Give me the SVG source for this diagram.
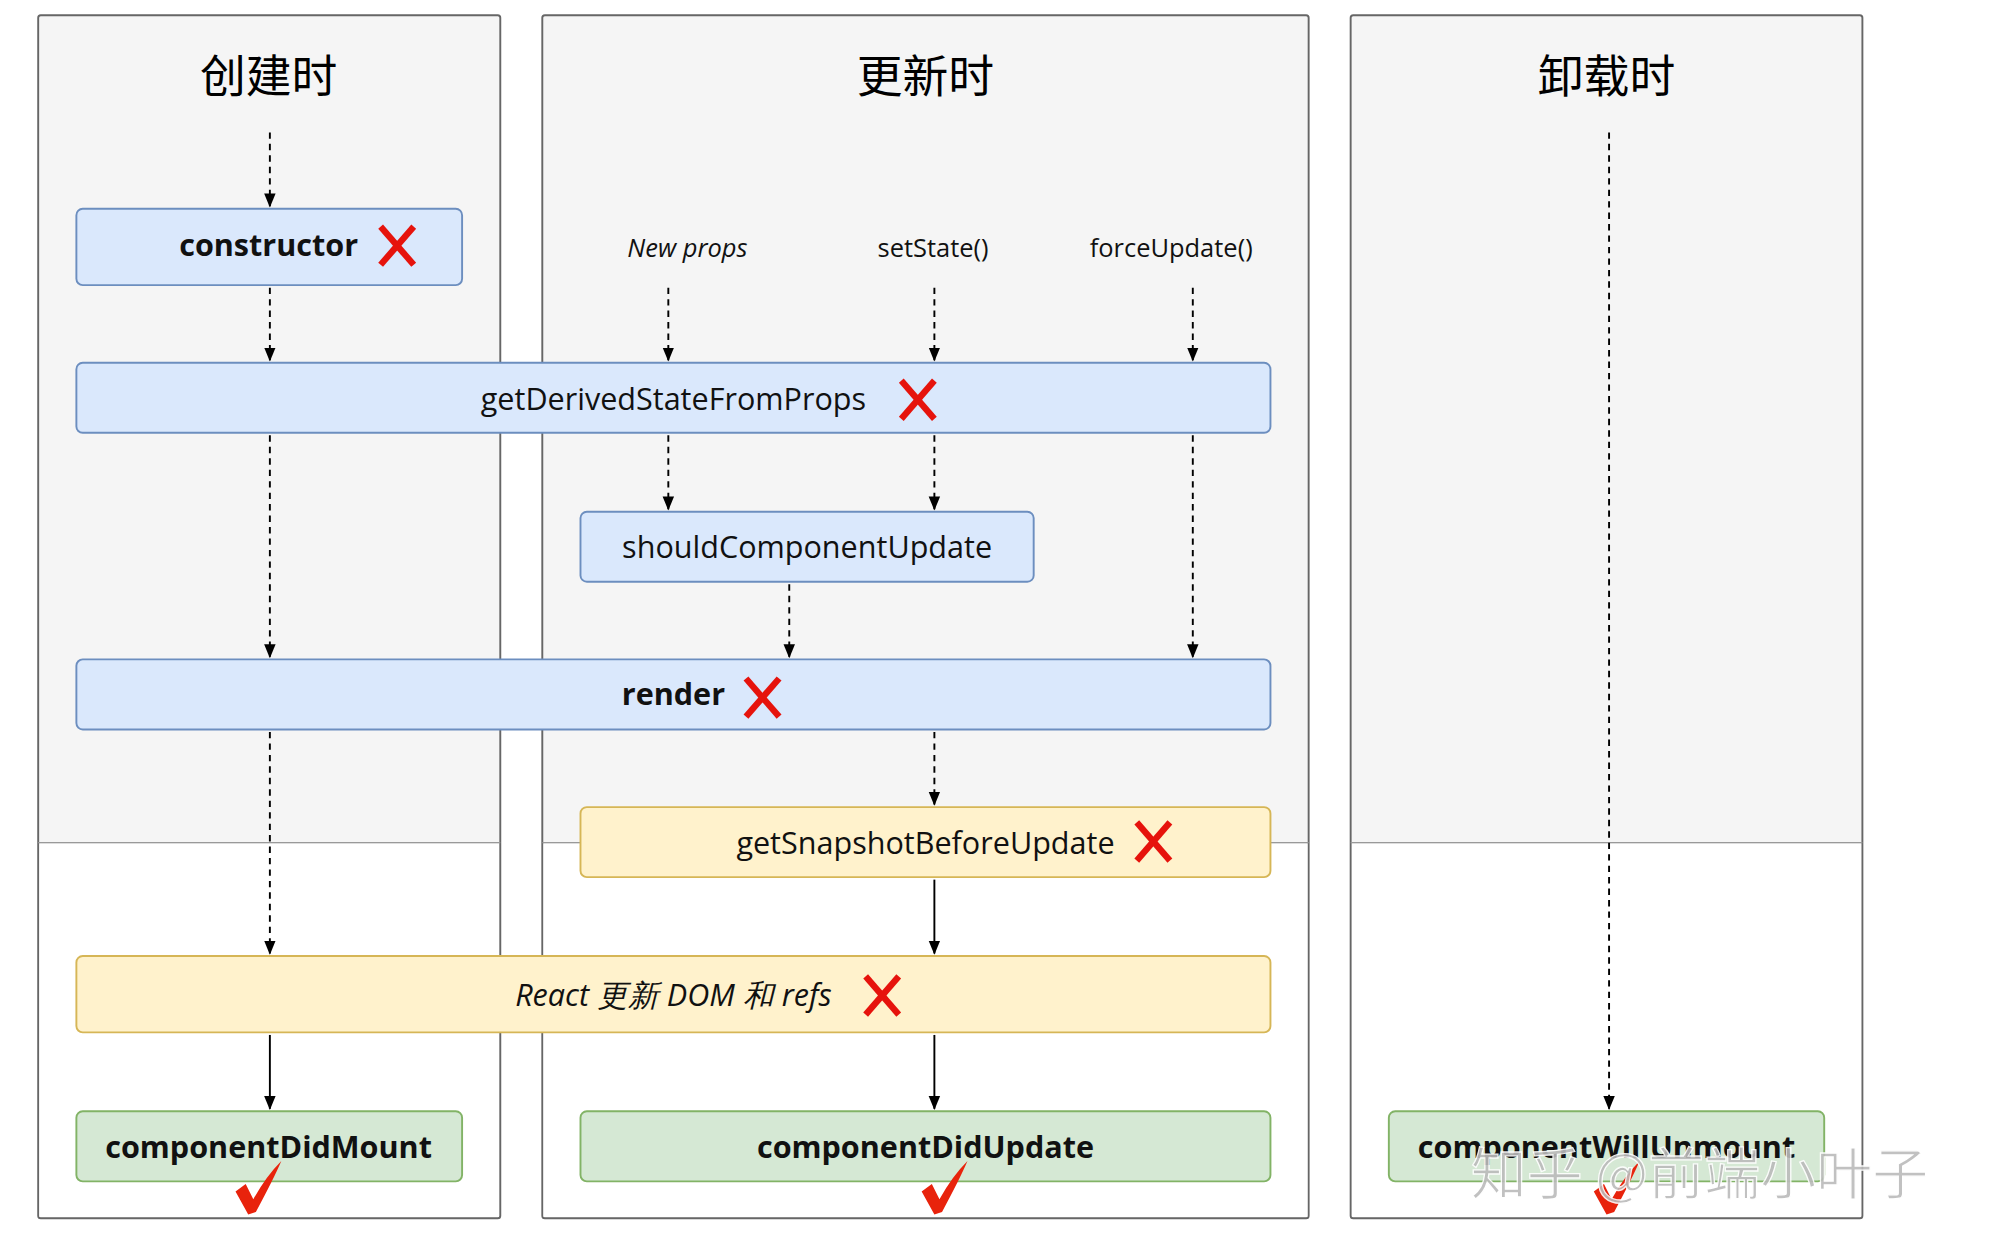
<svg xmlns="http://www.w3.org/2000/svg" width="1995" height="1252" viewBox="0 0 1995 1252">
<style>
.col{fill:#f5f5f5;stroke:#666;stroke-width:1.5}
.sep{stroke:#999;stroke-width:1}
.t{font-family:"Noto Sans CJK SC",sans-serif;font-size:36px;text-anchor:middle;fill:#000}
.b{stroke:#6c8ebf;fill:#dae8fc;stroke-width:1.5}
.y{stroke:#d6b656;fill:#fff2cc;stroke-width:1.5}
.g{stroke:#82b366;fill:#d5e8d4;stroke-width:1.5}
.l{font-family:"Open Sans","Liberation Sans",sans-serif;font-size:24px;text-anchor:middle;fill:#111}
.bold{font-weight:bold}
.s{font-family:"Open Sans","Liberation Sans",sans-serif;font-size:20px;text-anchor:middle;fill:#111}
.d{stroke:#000;stroke-width:1.5;stroke-dasharray:5 4;fill:none;marker-end:url(#ah)}
.so{stroke:#000;stroke-width:1.5;fill:none;marker-end:url(#ah)}
.x{stroke:#e6130c;stroke-width:5;stroke-linecap:butt}
.ck{fill:#e8230c}
</style>
<defs>
<marker id="ah" markerWidth="12" markerHeight="12" refX="10" refY="6" orient="auto" markerUnits="userSpaceOnUse"><path d="M0,1.5 L11,6 L0,10.5 Z" fill="#000"/></marker>
<g id="xm"><line class="x" x1="-13" y1="-15" x2="13" y2="15"/><line class="x" x1="13" y1="-15" x2="-13" y2="15"/></g>
<path id="cm" d="M-18,2 L-10,-4 L-4,8 Q6,-10 18,-22 Q12,-8 -2,18 L-8,20 Z"/>
</defs>
<rect width="1995" height="1252" fill="#fff"/>
<g transform="scale(1.273)">
<g id="columns">
<rect class="col" x="30" y="12" width="363" height="945" rx="2"/>
<rect x="31" y="663" width="361" height="293" fill="#fff"/>
<rect class="col" x="426" y="12" width="602" height="945" rx="2"/>
<rect x="427" y="663" width="600" height="293" fill="#fff"/>
<rect class="col" x="1061" y="12" width="402" height="945" rx="2"/>
<rect x="1062" y="663" width="400" height="293" fill="#fff"/>
<line class="sep" x1="30" y1="662" x2="393" y2="662"/>
<line class="sep" x1="426" y1="662" x2="1028" y2="662"/>
<line class="sep" x1="1061" y1="662" x2="1463" y2="662"/>
<text class="t" x="211" y="73">创建时</text>
<text class="t" x="727" y="73">更新时</text>
<text class="t" x="1262" y="73">卸载时</text>
</g>
<g id="labels">
<text class="s" x="540" y="202" font-style="italic">New props</text>
<text class="s" x="733" y="202">setState()</text>
<text class="s" x="920" y="202">forceUpdate()</text>
</g>
<g id="connectors">
<line class="d" x1="212" y1="104" x2="212" y2="162"/>
<line class="d" x1="212" y1="226" x2="212" y2="283"/>
<line class="d" x1="525" y1="226" x2="525" y2="283"/>
<line class="d" x1="734" y1="226" x2="734" y2="283"/>
<line class="d" x1="937" y1="226" x2="937" y2="283"/>
<line class="d" x1="212" y1="342" x2="212" y2="516"/>
<line class="d" x1="525" y1="342" x2="525" y2="400"/>
<line class="d" x1="734" y1="342" x2="734" y2="400"/>
<line class="d" x1="937" y1="342" x2="937" y2="516"/>
<line class="d" x1="620" y1="459" x2="620" y2="516"/>
<line class="d" x1="734" y1="575" x2="734" y2="632"/>
<line class="d" x1="212" y1="575" x2="212" y2="749"/>
<line class="so" x1="734" y1="691" x2="734" y2="749"/>
<line class="so" x1="212" y1="813" x2="212" y2="871"/>
<line class="so" x1="734" y1="813" x2="734" y2="871"/>
<line class="d" x1="1264" y1="104" x2="1264" y2="871"/>
</g>
<g id="constructor"><rect class="b" x="60" y="164" width="303" height="60" rx="5"/><text class="l bold" x="211" y="201">constructor</text><use href="#xm" x="312" y="193"/></g>
<g id="gdsfp"><rect class="b" x="60" y="285" width="938" height="55" rx="5"/><text class="l" x="529" y="322">getDerivedStateFromProps</text><use href="#xm" x="721" y="314"/></g>
<g id="scu"><rect class="b" x="456" y="402" width="356" height="55" rx="5"/><text class="l" x="634" y="438">shouldComponentUpdate</text></g>
<g id="render"><rect class="b" x="60" y="518" width="938" height="55" rx="5"/><text class="l bold" x="529" y="554">render</text><use href="#xm" x="599" y="548"/></g>
<g id="gsbu"><rect class="y" x="456" y="634" width="542" height="55" rx="5"/><text class="l" x="727" y="671">getSnapshotBeforeUpdate</text><use href="#xm" x="906" y="661"/></g>
<g id="react"><rect class="y" x="60" y="751" width="938" height="60" rx="5"/><text class="l" x="529" y="790" font-style="italic">React 更新 DOM 和 refs</text><use href="#xm" x="693" y="782"/></g>
<g id="cdm"><rect class="g" x="60" y="873" width="303" height="55" rx="5"/><text class="l bold" x="211" y="910">componentDidMount</text><use href="#cm" class="ck" x="203" y="934"/></g>
<g id="cdu"><rect class="g" x="456" y="873" width="542" height="55" rx="5"/><text class="l bold" x="727" y="910">componentDidUpdate</text><use href="#cm" class="ck" x="742" y="934"/></g>
<g id="cwu"><rect class="g" x="1091" y="873" width="342" height="55" rx="5"/><text class="l bold" x="1262" y="910">componentWillUnmount</text><use href="#cm" class="ck" x="1270" y="934"/></g>
<text x="1335" y="938" font-family="Noto Sans CJK SC,sans-serif" font-size="44" text-anchor="middle" fill="#bbb" stroke="#fff" stroke-width="1" opacity="0.9">知乎 @前端小叶子</text>
</g>
</svg>
